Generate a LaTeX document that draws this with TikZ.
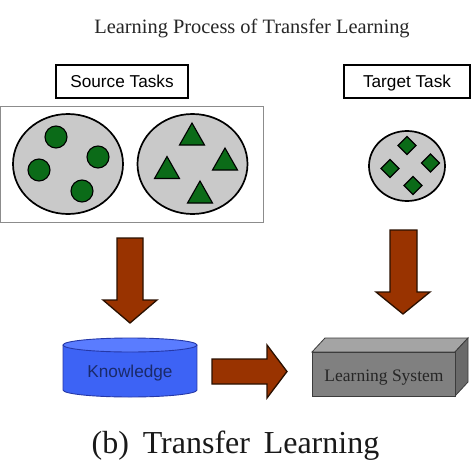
\documentclass[tikz,border=0pt]{standalone}
\usepackage{fontspec}
\setmainfont{Liberation Serif}
\newfontfamily\arialf{Liberation Sans}
\definecolor{arrowbrown}{HTML}{993300}
\definecolor{arrowedge}{HTML}{2A1000}
\definecolor{taskgray}{HTML}{C9C9C9}
\definecolor{shapegreen}{HTML}{0B6B18}
\definecolor{kbody}{HTML}{3D63F5}
\definecolor{ktop}{HTML}{5A7CFF}
\definecolor{kedge}{HTML}{2538A8}
\definecolor{ktext}{HTML}{1A2A6A}
\definecolor{lsfront}{HTML}{808080}
\definecolor{lstop}{HTML}{A4A4A4}
\definecolor{lsside}{HTML}{6A6A6A}
\definecolor{lsedge}{HTML}{3C3C3C}
\tikzset{
  labelbox/.style={draw=black,line width=1.1pt,minimum width=132pt,minimum height=33pt,inner sep=0pt,text height=12.4pt,text depth=0pt,font=\arialf\fontsize{17.2}{20}\selectfont},
  taskset/.style={fill=taskgray,draw=black,line width=1.7pt},
  dot/.style={fill=shapegreen,draw=black,line width=1.1pt},
  blockarrow/.style={fill=arrowbrown,draw=arrowedge,line width=1.3pt,line join=miter},
}
\begin{document}
\begin{tikzpicture}[x=1pt,y=-1pt]
\useasboundingbox (0,0) rectangle (474,474);
\fill[white] (0,0) rectangle (474,474);
% title
\node[anchor=base,text=black!85,font=\fontsize{20.4}{24}\selectfont] (title) at (252,33) {Learning Process of Transfer Learning};
% label boxes
\node[labelbox] (src) at (122,81.5) {Source Tasks};
\node[labelbox,minimum width=126pt] (tgt) at (407,81.5) {Target Task};
% source frame
\draw[draw=black!45,line width=0.9pt] (0.5,106) rectangle (263,222);
% source task 1
\draw[taskset] (68,164) ellipse[x radius=55,y radius=50];
\foreach \p in {(56,137),(98,157),(39,170),(82,191)}
  \draw[dot] \p circle[radius=11];
% source task 2
\draw[taskset] (192.5,164) ellipse[x radius=55,y radius=50];
\foreach \cx/\cy in {192/134,225/159,167/167.5,200/192}
  \draw[dot] (\cx-12.5,\cy+11) -- (\cx,\cy-11) -- (\cx+12.5,\cy+11) -- cycle;
% target task
\draw[taskset] (407,166) ellipse[x radius=38,y radius=35];
\foreach \cx/\cy in {407/145.5,390/168.5,430.5/163,413/185.5}
  \draw[dot] (\cx,\cy-9) -- (\cx+9,\cy) -- (\cx,\cy+9) -- (\cx-9,\cy) -- cycle;
% down arrows
\draw[blockarrow] (117,238) -- (143,238) -- (143,300) -- (157,300) -- (130,323) -- (103,300) -- (117,300) -- cycle;
\draw[blockarrow] (390,230) -- (417,230) -- (417,292) -- (430,292) -- (403,314) -- (376,292) -- (390,292) -- cycle;
% knowledge cylinder
\fill[kbody] (63,345) rectangle (197,390);
\fill[kbody] (130,390) ellipse[x radius=67,y radius=7];
\draw[kedge,line width=0.9pt] (63,345) -- (63,390) arc[start angle=180,end angle=0,x radius=67,y radius=7] -- (197,345);
\draw[kedge,line width=0.9pt,fill=ktop] (130,345) ellipse[x radius=67,y radius=7];
\node[anchor=base,text=ktext,font=\arialf\fontsize{17.2}{20}\selectfont] (know) at (130,377) {Knowledge};
% right arrow
\draw[blockarrow] (212,359) -- (267,359) -- (267,345) -- (287,371.5) -- (267,398) -- (267,384) -- (212,384) -- cycle;
% learning system box
\draw[lsedge,line width=0.8pt,fill=lstop] (312,352) -- (325,338) -- (468,338) -- (455,352) -- cycle;
\draw[lsedge,line width=0.8pt,fill=lsside] (455,352) -- (468,338) -- (468,382) -- (455,396) -- cycle;
\draw[lsedge,line width=0.8pt,fill=lsfront] (312,352) rectangle (455,396);
\node[anchor=base,text=black!85,font=\fontsize{17.5}{20}\selectfont] (ls) at (384,381) {Learning System};
% caption
\node[anchor=base,text=black!90,font=\fontsize{32}{36}\selectfont] (cap) at (235.5,453) {(b)\hspace{0.43em}Transfer\hspace{0.43em}Learning};
\end{tikzpicture}
\end{document}
